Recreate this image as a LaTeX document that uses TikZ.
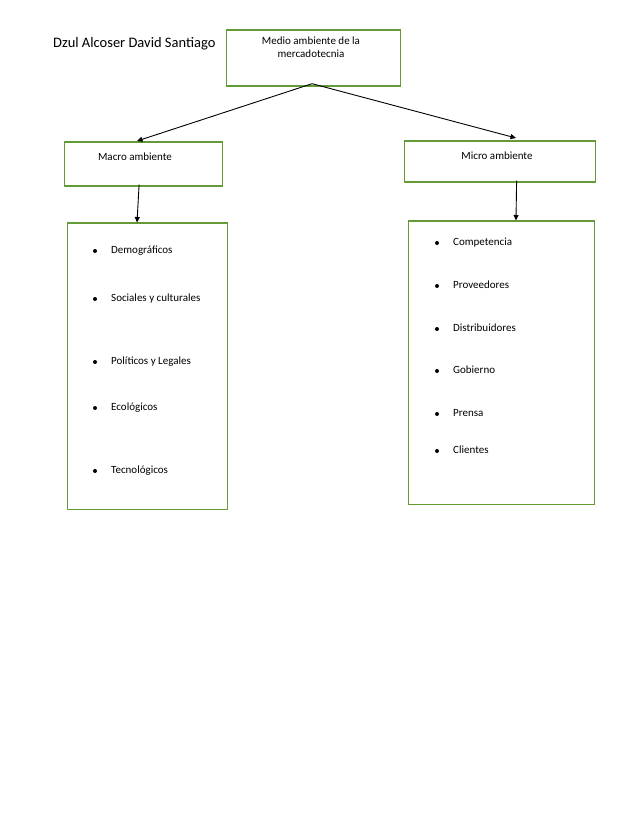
\documentclass[tikz,border=0pt]{standalone}
\usepackage{fontspec}
\setmainfont{Carlito}
\usepackage{tikz}
\definecolor{boxGreen}{RGB}{100,155,55}
\usetikzlibrary{arrows.meta,calc,positioning}
\tikzset{
  >={Triangle[length=5.5pt,width=5pt]},
  font=\fontsize{11}{13}\selectfont,
  box/.style={draw=boxGreen,line width=1.2pt,shape=rectangle,anchor=north west,inner sep=0},
  txt/.style={inner sep=0,text height=1.5ex,text depth=0.25ex},
  item/.style={txt,anchor=west},
  dot/.style={circle,fill=black,inner sep=0,minimum size=4pt},
  line/.style={draw,->,line width=0.9pt},
}
\begin{document}
\begin{tikzpicture}[x=1pt,y=-1pt]
  \useasboundingbox (0,0) rectangle (638,826);
  % title
  \node (name) [txt,font=\fontsize{14.5}{17}\selectfont,anchor=west] at (53,45) {Dzul Alcoser David Santiago};
  % boxes
  \node (top) [box,minimum width=174pt,minimum height=56pt] at (225.5,29.5) {};
  \node (macro) [box,minimum width=158pt,minimum height=44pt] at (63.5,141.5) {};
  \node (micro) [box,minimum width=191pt,minimum height=41pt] at (403.5,140.5) {};
  \node (macrolist) [box,minimum width=160pt,minimum height=286pt] at (66.5,222.5) {};
  \node (microlist) [box,minimum width=186pt,minimum height=283pt] at (407.5,220.5) {};
  % box texts
  \node (toptxt) [txt,align=center] at (311,54.5) {Medio ambiente de la\\mercadotecnia};
  \node (macrotxt) [txt] at (135,158) {Macro ambiente};
  \node (microtxt) [txt] at (497,157) {Micro ambiente};
  % arrows
  \coordinate (split) at ($(top.south)+(-1,-3)$);
  \coordinate (macroin) at (137,141);
  \coordinate (microin) at (516,138);
  \path [line] (split) -- (macroin);
  \path [line] (split) -- (microin);
  \path [line] ($(macro.south)+(-4,-2)$) -- (macrolist.north -| 137,0);
  \path [line] ($(micro.south)+(17,-2)$) -- (microlist.north -| 516,0);
  % left list
  \foreach \y/\t [count=\i] in {251/Demográficos,299/Sociales y culturales,362/Políticos y Legales,408/Ecológicos,471/Tecnológicos}{
    \node (ldot\i) [dot] at (95,\y) {};
    \node (litem\i) [item] at (111,\y) {\t};
  }
  % right list
  \foreach \y/\t [count=\i] in {243/Competencia,286/Proveedores,329/Distribuidores,371/Gobierno,414/Prensa,451/Clientes}{
    \node (rdot\i) [dot] at (437,\y) {};
    \node (ritem\i) [item] at (453,\y) {\t};
  }
\end{tikzpicture}
\end{document}
